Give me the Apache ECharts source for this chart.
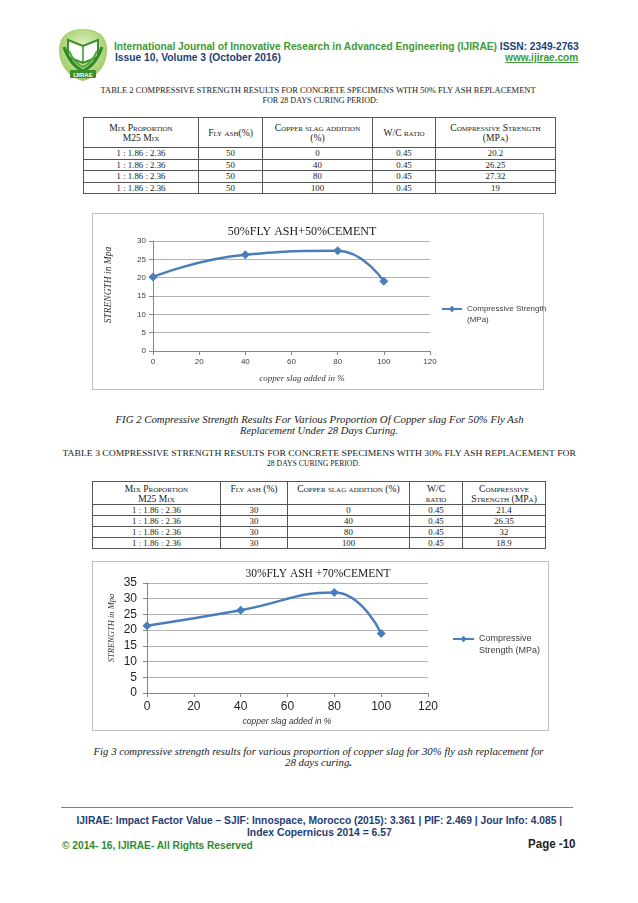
<!DOCTYPE html>
<html><head><meta charset="utf-8">
<script src="https://cdn.jsdelivr.net/npm/echarts@6/dist/echarts.min.js"></script>
<style>
html,body{margin:0;padding:0;background:#fff;}
#page{position:relative;width:638px;height:903px;overflow:hidden;background:#fff;}
.t{position:absolute;left:0;top:0;white-space:nowrap;line-height:12px;}
.serif{font-family:"Liberation Serif","Times New Roman",serif;color:#1a1a1a;}
.hd{font-family:"Liberation Sans Narrow","Liberation Sans",Arial,sans-serif;font-weight:bold;}
table.tb{position:absolute;border-collapse:collapse;table-layout:fixed;font-family:"Liberation Serif","Times New Roman",serif;font-size:8.8px;color:#1a1a1a;}
table.tb td{border:1px solid #555;text-align:center;padding:0;line-height:10px;overflow:hidden;white-space:nowrap;}
.sc{font-variant:small-caps;font-size:9.6px;}
.box{position:absolute;border:1px solid #bfbfbf;box-sizing:border-box;}
.chart{position:absolute;}
</style></head>
<body>
<div id="page">
  <!-- logo -->
  <svg style="position:absolute;left:57px;top:27px" width="52" height="56" viewBox="0 0 52 56">
    <defs><radialGradient id="lg" cx="50%" cy="40%" r="62%"><stop offset="0" stop-color="#eef7d2"/><stop offset="1" stop-color="#93c656"/></radialGradient></defs>
    <path d="M26 2 C41 2 50 9 50 23 C50 39 40 50 26 54 C12 50 2 39 2 23 C2 9 11 2 26 2Z" fill="url(#lg)"/>
    <path d="M11 13 L26 19 L41 13 L41 30 L26 36 L11 30Z" fill="#ffffff" stroke="#3b8f2c" stroke-width="2"/>
    <line x1="26" y1="19" x2="26" y2="36" stroke="#3b8f2c" stroke-width="1.5"/>
    <path d="M7 20 Q13 38 26 44 Q39 38 45 20" fill="none" stroke="#2f8a2a" stroke-width="3"/>
    <path d="M12 24 Q17 36 26 40 Q35 36 40 24" fill="none" stroke="#56a83a" stroke-width="2"/>
    <rect x="13" y="43" width="26" height="8" rx="1" fill="#3b8f2c"/>
    <text x="26" y="49.5" font-size="6" fill="#ffffff" text-anchor="middle" font-weight="bold" font-family="Liberation Sans">IJIRAE</text>
  </svg>

  <div class="t hd" data-l="114" data-cy="46" data-w="465" style="font-size:11.5px"><span style="color:#3d9b35">International Journal of Innovative Research in Advanced Engineering (IJIRAE)</span> <span style="color:#1c3f7a">ISSN: 2349-2763</span></div>
  <div class="t hd" data-l="115" data-cy="57" data-w="166" style="font-size:11.5px;color:#1c3f7a">Issue 10, Volume 3 (October 2016)</div>
  <div class="t hd" data-r="578" data-cy="57" data-w="73" style="font-size:11.5px;color:#3d9b35;text-decoration:underline">www.ijirae.com</div>

  <div class="t serif" data-cx="318" data-cy="91" data-w="435" style="font-size:7.6px">TABLE 2 COMPRESSIVE STRENGTH RESULTS FOR CONCRETE SPECIMENS WITH 50% FLY ASH REPLACEMENT</div>
  <div class="t serif" data-cx="320" data-cy="101" data-w="116" style="font-size:7.6px">FOR 28 DAYS CURING PERIOD:</div>

  <table class="tb" id="tab2" style="left:83px;top:117px;width:472px">
    <colgroup><col style="width:115px"><col style="width:64px"><col style="width:110px"><col style="width:63px"><col style="width:120px"></colgroup>
    <tbody id="tab2body">
      <tr style="height:30px"><td class="sc">Mix Proportion<br>M25 Mix</td><td class="sc">Fly ash(%)</td><td class="sc">Copper slag addition<br>(%)</td><td class="sc">W/C ratio</td><td class="sc">Compressive Strength<br>(MPa)</td></tr>
    </tbody>
  </table>

  <div class="box" style="left:92px;top:213px;width:452px;height:177px"></div>
  <div class="chart" id="c1" style="left:92px;top:213px;width:470px;height:177px"></div>

  <div class="t serif" data-cx="319" data-cy="420" data-w="408" style="font-size:10.5px;font-style:italic">FIG 2 Compressive Strength Results For Various Proportion Of Copper slag For 50% Fly Ash</div>
  <div class="t serif" data-cx="319" data-cy="431" data-w="158" style="font-size:10.5px;font-style:italic">Replacement Under 28 Days Curing.</div>

  <div class="t serif" data-cx="319" data-cy="454" data-w="513" style="font-size:8.2px">TABLE 3 COMPRESSIVE STRENGTH RESULTS FOR CONCRETE SPECIMENS WITH 30% FLY ASH REPLACEMENT FOR</div>
  <div class="t serif" data-cx="313" data-cy="464" data-w="93" style="font-size:8.2px">28 DAYS CURING PERIOD.</div>

  <table class="tb" id="tab3" style="left:92px;top:481px;width:453px">
    <colgroup><col style="width:128px"><col style="width:67px"><col style="width:122px"><col style="width:53px"><col style="width:83px"></colgroup>
    <tbody id="tab3body">
      <tr style="height:23px;vertical-align:top"><td class="sc" style="padding-top:2px">Mix Proportion<br>M25 Mix</td><td class="sc" style="padding-top:2px">Fly ash (%)</td><td class="sc" style="padding-top:2px">Copper slag addition (%)</td><td class="sc" style="padding-top:2px">W/C<br>ratio</td><td class="sc" style="padding-top:2px">Compressive<br>Strength (MPa)</td></tr>
    </tbody>
  </table>

  <div class="box" style="left:92px;top:561px;width:457px;height:170px"></div>
  <div class="chart" id="c2" style="left:92px;top:561px;width:470px;height:170px"></div>

  <div class="t serif" data-cx="318" data-cy="752" data-w="450" style="font-size:10.5px;font-style:italic">Fig 3 compressive strength results for various proportion of copper slag for 30% fly ash replacement for</div>
  <div class="t serif" data-cx="318" data-cy="763" data-w="67" style="font-size:10.5px;font-style:italic">28 days curing<b>.</b></div>

  <div style="position:absolute;left:61px;top:807px;width:512px;height:0;border-top:1.5px solid #7f7f7f"></div>
  <div class="t hd" data-cx="319" data-cy="820" data-w="486" style="font-size:11.5px;color:#1f3d73">IJIRAE: Impact Factor Value – SJIF: Innospace, Morocco (2015): 3.361 | PIF: 2.469 | Jour Info: 4.085 |</div>
  <div class="t hd" data-cx="319" data-cy="832" data-w="145" style="font-size:11.5px;color:#1f3d73">Index Copernicus 2014 = 6.57</div>
  <div class="t hd" data-l="62" data-cy="845" data-w="191" style="font-size:11.5px;color:#2e8b2e">© 2014- 16, IJIRAE- All Rights Reserved</div>
  <div class="t hd" data-r="575" data-cy="844" data-w="47" style="font-size:13px;color:#222">Page -10</div>
</div>

<script>
// ---------------- data ----------------
const mixProportion = '1 : 1.86 : 2.36';
const slagAdded = [0, 40, 80, 100];
const wcRatio = [0.45, 0.45, 0.45, 0.45];
const flyAsh50 = [50, 50, 50, 50];
const strength50 = [20.2, 26.25, 27.32, 19];
const flyAsh30 = [30, 30, 30, 30];
const strength30 = [21.4, 26.35, 32, 18.9];
const xAxisMax = 120, xAxisStep = 20;
const yAxisMax1 = 30, yAxisMax2 = 35, yAxisStep = 5;
const seriesName = 'Compressive Strength (MPa)';

// ---------------- tables ----------------
function fillTable(id, fly, str, rowH) {
  const body = document.getElementById(id);
  slagAdded.forEach((s, i) => {
    const tr = document.createElement('tr');
    tr.style.height = rowH + 'px';
    [mixProportion, fly[i], s, wcRatio[i], str[i]].forEach(v => {
      const td = document.createElement('td');
      td.textContent = String(v);
      tr.appendChild(td);
    });
    body.appendChild(tr);
  });
}
fillTable('tab2body', flyAsh50, strength50, 11.5);
fillTable('tab3body', flyAsh30, strength30, 10.75);

// ---------------- text fitting ----------------
document.querySelectorAll('.t').forEach(el => {
  const w = el.offsetWidth, h = el.offsetHeight;
  const tw = +el.dataset.w;
  const s = tw ? tw / w : 1;
  el.style.top = (+el.dataset.cy - h / 2) + 'px';
  if (el.dataset.cx) { el.style.left = (+el.dataset.cx - w / 2) + 'px'; el.style.transformOrigin = '50% 50%'; }
  else if (el.dataset.r) { el.style.left = (+el.dataset.r - w) + 'px'; el.style.transformOrigin = '100% 50%'; }
  else { el.style.left = el.dataset.l + 'px'; el.style.transformOrigin = '0 50%'; }
  el.style.transform = 'scaleX(' + s + ')';
});

// ---------------- charts ----------------
function chartOption(c) {
  return {
    animation: false,
    grid: { left: c.gl, top: c.gt, width: c.gw, height: c.gh },
    xAxis: {
      type: 'value', min: 0, max: xAxisMax, interval: xAxisStep,
      axisLine: { show: true, lineStyle: { color: '#868686', width: 1 } },
      axisTick: { show: true, length: 4, lineStyle: { color: '#868686' } },
      axisLabel: { fontSize: c.ls, color: c.lc, margin: c.xm, fontFamily: 'Liberation Sans' },
      splitLine: { show: false }
    },
    yAxis: {
      type: 'value', min: 0, max: c.ymax, interval: yAxisStep,
      axisLine: { show: true, lineStyle: { color: '#868686', width: 1 } },
      axisTick: { show: true, length: 4, lineStyle: { color: '#868686' } },
      axisLabel: { fontSize: c.ls, color: c.lc, margin: c.ym, fontFamily: 'Liberation Sans' },
      splitLine: { show: true, lineStyle: { color: '#b3b3b3', width: 1 } }
    },
    legend: {
      show: true, left: c.lgl, top: c.lgt, padding: 0, itemWidth: c.lgw, itemHeight: 8,
      formatter: () => '\n' + c.lgText,
      textStyle: { fontSize: c.lgs, lineHeight: c.lgh, color: '#404040', fontFamily: 'Liberation Sans' }
    },
    series: [{
      type: 'line', name: seriesName,
      data: slagAdded.map((v, i) => [v, c.y[i]]),
      smooth: true, symbol: 'diamond', symbolSize: 9,
      lineStyle: { color: '#4A7EBB', width: 2.5 },
      itemStyle: { color: '#4A7EBB' }
    }],
    graphic: [
      { type: 'text', x: c.tx, y: c.ty, z: 10, style: { text: c.title, textAlign: 'center', textVerticalAlign: 'middle', font: c.tfont, fill: '#1a1a1a' } },
      { type: 'text', x: c.ynx, y: c.yny, rotation: Math.PI / 2, z: 10, style: { text: 'STRENGTH in Mpa', textAlign: 'center', textVerticalAlign: 'middle', font: c.ynfont, fill: '#333' } },
      { type: 'text', x: c.xnx, y: c.xny, z: 10, style: { text: 'copper slag added in %', textAlign: 'center', textVerticalAlign: 'middle', font: c.xnfont, fill: '#333' } }
    ]
  };
}

const c1 = echarts.init(document.getElementById('c1'), null, { renderer: 'canvas' });
c1.setOption(chartOption({
  gl: 61, gt: 28, gw: 277, gh: 110, ymax: yAxisMax1, y: strength50,
  ls: 8, lc: '#404040', xm: 7, ym: 7,
  lgl: 349, lgt: 79.5, lgw: 20, lgs: 8, lgh: 11, lgText: 'Compressive Strength\n(MPa)',
  title: '50%FLY ASH+50%CEMENT', tx: 210, ty: 19, tfont: '12px "Liberation Serif"',
  ynx: 16, yny: 72, ynfont: 'italic 9.5px "Liberation Serif"',
  xnx: 210, xny: 166, xnfont: 'italic 9px "Liberation Serif"'
}));

const c2 = echarts.init(document.getElementById('c2'), null, { renderer: 'canvas' });
c2.setOption(chartOption({
  gl: 55, gt: 22, gw: 281, gh: 110, ymax: yAxisMax2, y: strength30,
  ls: 12, lc: '#262626', xm: 8, ym: 10,
  lgl: 360, lgt: 60, lgw: 21, lgs: 9, lgh: 12, lgText: 'Compressive\nStrength (MPa)',
  title: '30%FLY ASH +70%CEMENT', tx: 226, ty: 13, tfont: '11.5px "Liberation Serif"',
  ynx: 20, yny: 67, ynfont: 'italic 8.5px "Liberation Serif"',
  xnx: 195, xny: 161, xnfont: 'italic 8.5px "Liberation Sans"'
}));
</script>
</body></html>
